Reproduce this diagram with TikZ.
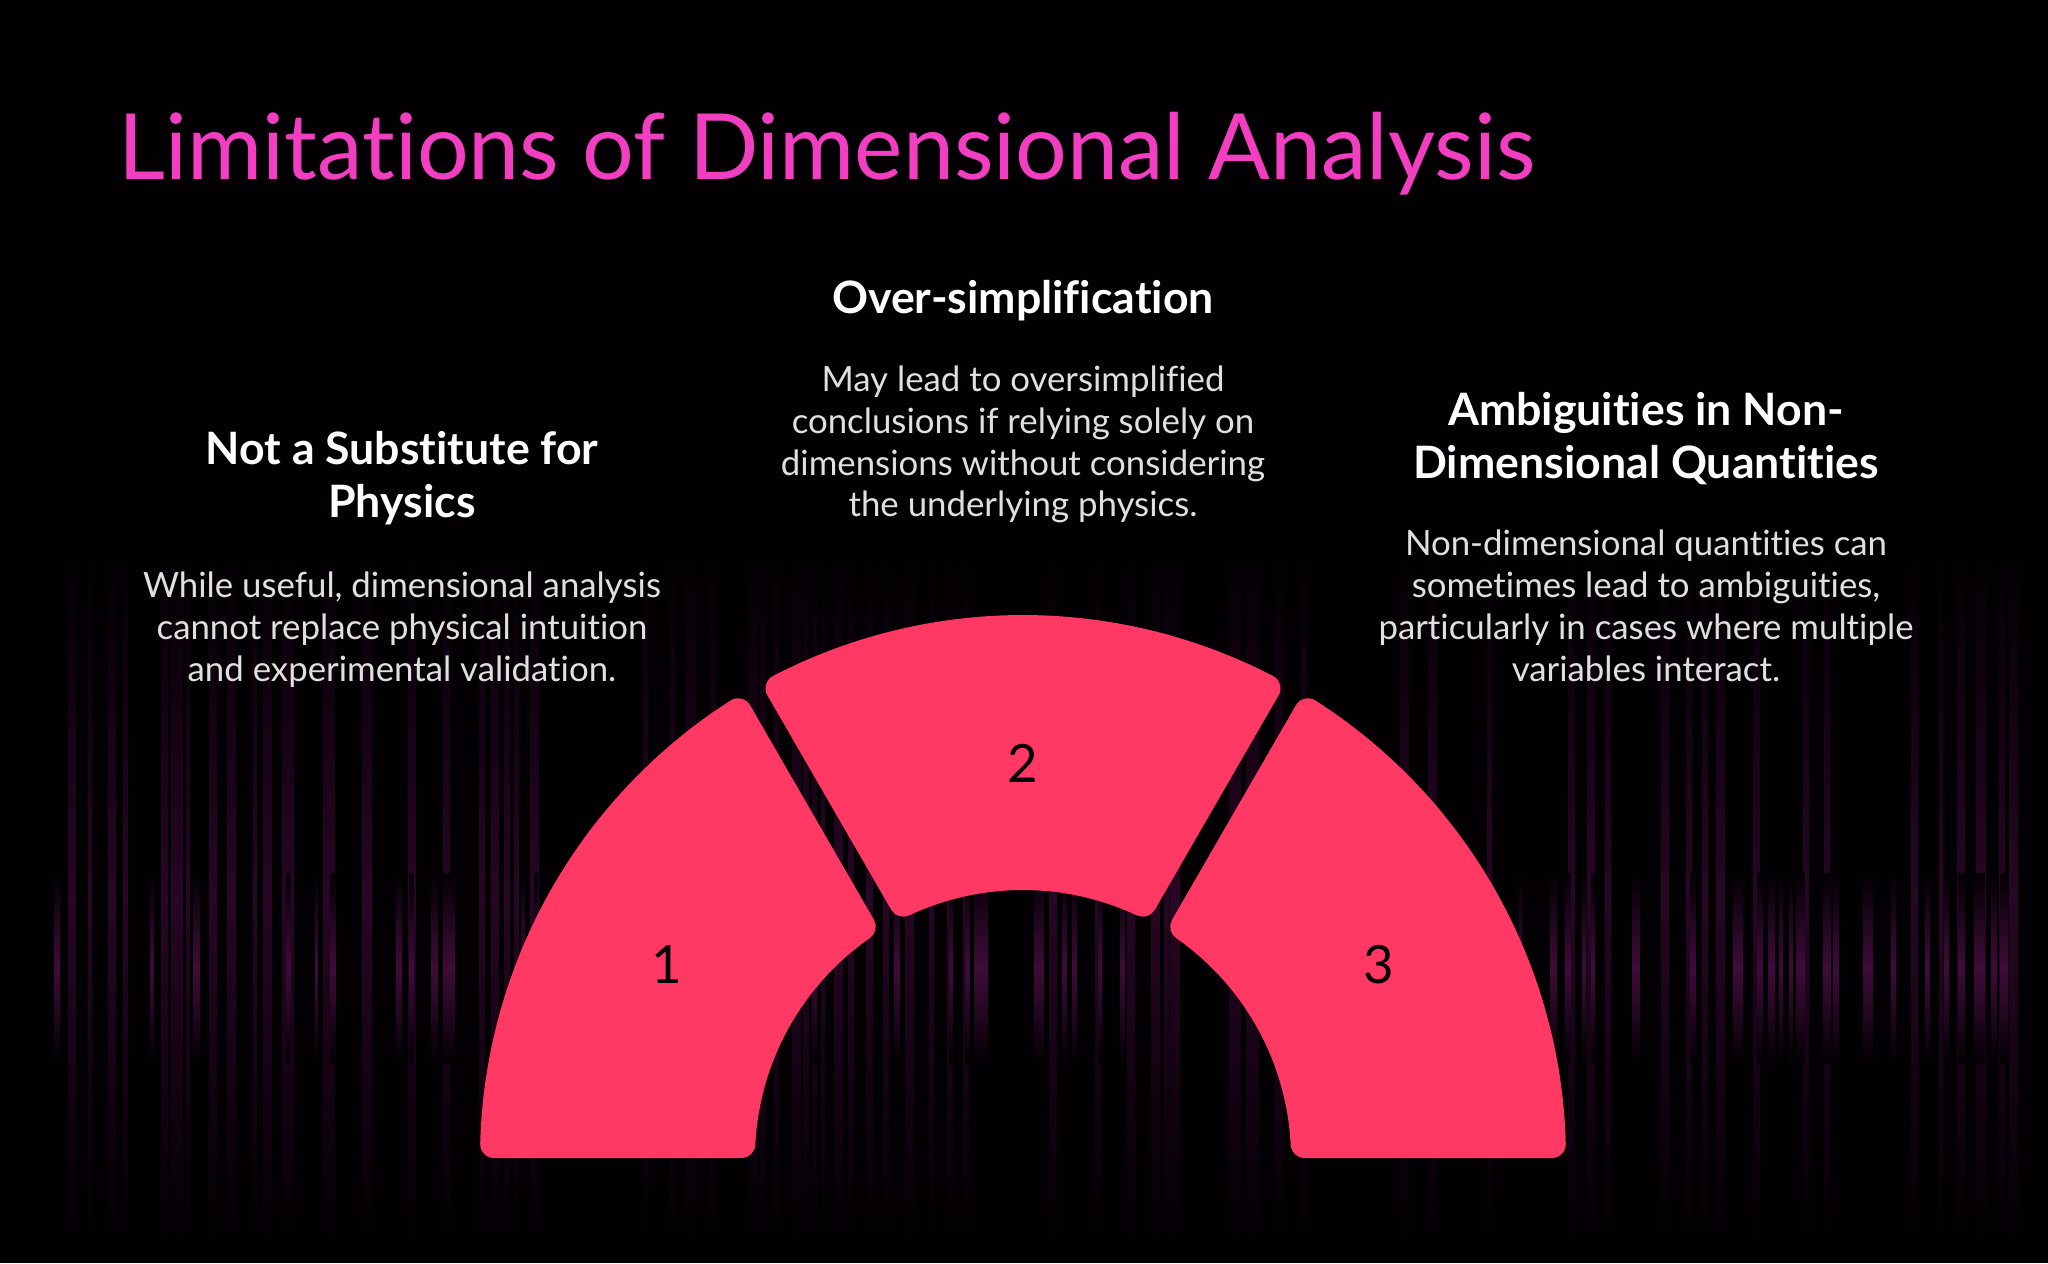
\documentclass[tikz,border=0pt]{standalone}
\usepackage{fontspec}
\setmainfont{Lato}[Ligatures=NoCommon]
\usetikzlibrary{positioning}
\definecolor{bgblack}{RGB}{3,0,4}
\definecolor{titlepink}{RGB}{242,62,192}
\definecolor{segred}{RGB}{255,56,100}
\definecolor{stripedim}{RGB}{40,6,36}
\definecolor{stripelit}{RGB}{62,12,56}
\def\Rout{5.29}
\def\Rin{2.82}
\newcommand{\ringseg}[4]{%
  \pgfmathsetmacro{\oa}{#1+asin(#3/\Rout)}%
  \pgfmathsetmacro{\ob}{#2-asin(#4/\Rout)}%
  \pgfmathsetmacro{\ia}{#1+asin(#3/\Rin)}%
  \pgfmathsetmacro{\ib}{#2-asin(#4/\Rin)}%
  \filldraw[seg] (\oa:\Rout) arc[start angle=\oa,end angle=\ob,radius=\Rout]
    -- (\ib:\Rin) arc[start angle=\ib,end angle=\ia,radius=\Rin] -- cycle;}

\begin{document}
\begin{tikzpicture}[node distance=0,
      seg/.style={fill=segred,draw=segred,line width=2.8mm,line join=round},
      head/.style={text=white,align=center,inner sep=0,anchor=north,
        font=\fontsize{12.7}{14.9}\selectfont\bfseries},
      body/.style={text=white!88!black,align=center,inner sep=0,anchor=north,
        font=\fontsize{9.9}{11.9}\selectfont},
      num/.style={text=black,font=\fontsize{15}{18}\selectfont}]
  \fill[bgblack] (0,0) rectangle (20.48,12.63);
  \useasboundingbox (0,0) rectangle (20.48,12.63);
  \pgfmathsetseed{42}
  \foreach \i in {1,...,90}{
    \pgfmathsetmacro{\sx}{0.4+rnd*19.7}
    \pgfmathsetmacro{\sw}{0.03+rnd*0.06}
    \shade[top color=bgblack,bottom color=bgblack,middle color=stripedim]
      (\sx,0.25) rectangle ++(\sw,6.8);
  }
  \foreach \i in {1,...,70}{
    \pgfmathsetmacro{\sx}{0.4+rnd*19.7}
    \pgfmathsetmacro{\sw}{0.03+rnd*0.05}
    \shade[top color=bgblack,bottom color=bgblack,middle color=stripelit]
      (\sx,2.0) rectangle ++(\sw,1.9);
  }
  \node[anchor=base west,inner sep=0,text=titlepink,font=\fontsize{26}{31}\selectfont]
    (title) at (1.18,10.83) {Limitations of Dimensional Analysis};
  \node[head] (head2) at (10.23,9.83) {Over-simplification};
  \node[body,below=0.43cm of head2] (body2) {May lead to oversimplified\\conclusions if relying solely on\\dimensions without considering\\the underlying physics.};
  \node[head] (head1) at (4.02,8.32) {Not a Substitute for\\Physics};
  \node[body,below=0.46cm of head1] (body1) {While useful, dimensional analysis\\cannot replace physical intuition\\and experimental validation.};
  \node[head] (head3) at (16.46,8.71) {Ambiguities in Non-\\Dimensional Quantities};
  \node[body,below=0.44cm of head3] (body3) {Non-dimensional quantities can\\sometimes lead to ambiguities,\\particularly in cases where multiple\\variables interact.};
  \begin{scope}[shift={(10.23,1.05)}]
    \ringseg{120}{180}{0.24}{0.14}
    \ringseg{60}{120}{0.24}{0.24}
    \ringseg{0}{60}{0.14}{0.24}
    \node[num] (n1) at (151.5:4.05) {1};
    \node[num] (n2) at (90:3.95) {2};
    \node[num] (n3) at (28.5:4.05) {3};
  \end{scope}
\end{tikzpicture}
\end{document}
